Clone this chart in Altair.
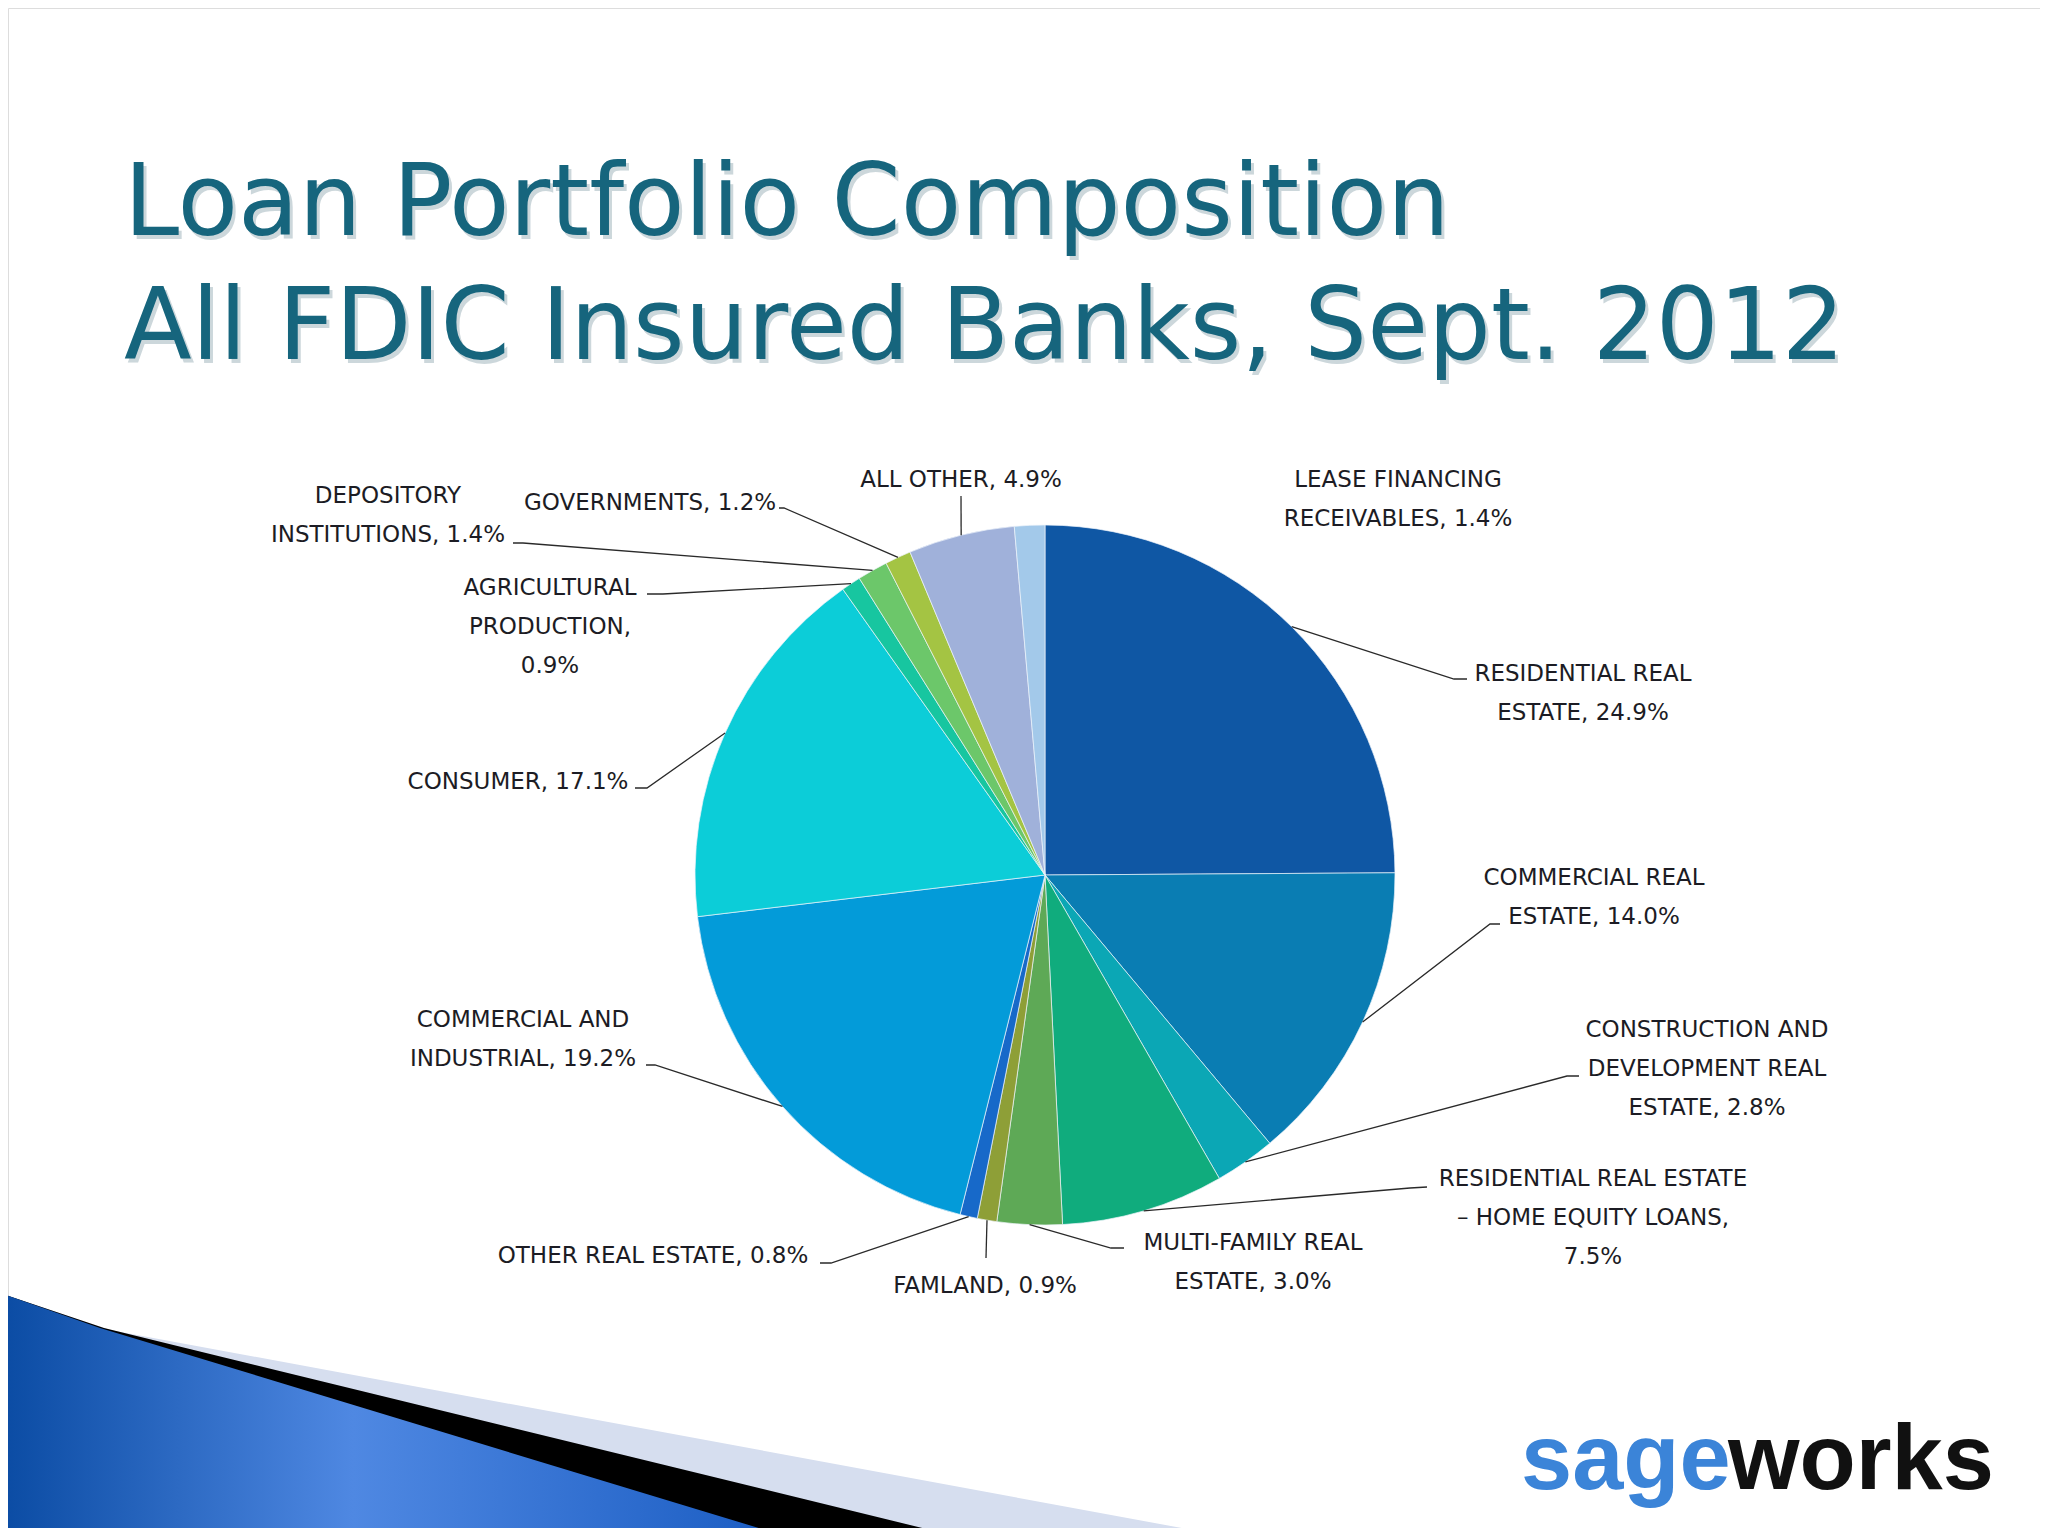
import math
import altair as alt
import pandas as pd

# ---------------- data ----------------
categories = [
    "RESIDENTIAL REAL ESTATE", "COMMERCIAL REAL ESTATE",
    "CONSTRUCTION AND DEVELOPMENT REAL ESTATE",
    "RESIDENTIAL REAL ESTATE - HOME EQUITY LOANS", "MULTI-FAMILY REAL ESTATE",
    "FAMLAND", "OTHER REAL ESTATE", "COMMERCIAL AND INDUSTRIAL", "CONSUMER",
    "AGRICULTURAL PRODUCTION", "DEPOSITORY INSTITUTIONS", "GOVERNMENTS",
    "ALL OTHER", "LEASE FINANCING RECEIVABLES",
]
shares = [24.9, 14.0, 2.8, 7.5, 3.0, 0.9, 0.8, 19.2, 17.1, 0.9, 1.4, 1.2, 4.9, 1.4]
colors = [
    "#0F57A4", "#0A7DB3", "#0BA7B5", "#10AC7D", "#5EA956", "#8E9F37", "#1769C9",
    "#039BD9", "#0CCDD8", "#17C6A0", "#6CC76A", "#A4C443", "#A0B1DA", "#A3C9EA",
]
label_texts = [
    "RESIDENTIAL REAL\nESTATE, 24.9%",
    "COMMERCIAL REAL\nESTATE, 14.0%",
    "CONSTRUCTION AND\nDEVELOPMENT REAL\nESTATE, 2.8%",
    "RESIDENTIAL REAL ESTATE\n– HOME EQUITY LOANS,\n7.5%",
    "MULTI-FAMILY REAL\nESTATE, 3.0%",
    "FAMLAND, 0.9%",
    "OTHER REAL ESTATE, 0.8%",
    "COMMERCIAL AND\nINDUSTRIAL, 19.2%",
    "CONSUMER, 17.1%",
    "AGRICULTURAL\nPRODUCTION,\n0.9%",
    "DEPOSITORY\nINSTITUTIONS, 1.4%",
    "GOVERNMENTS, 1.2%",
    "ALL OTHER, 4.9%",
    "LEASE FINANCING\nRECEIVABLES, 1.4%",
]
title_lines = ["Loan Portfolio Composition", "All FDIC Insured Banks, Sept. 2012"]
logo_parts = ["sage", "works"]

# ---------------- layout (page pixels) ----------------
PIE_CX, PIE_CY, PIE_R = 1045, 875, 350
label_pos = [  # centre x, first baseline
    (1583, 681), (1594, 885), (1707, 1037), (1593, 1186), (1253, 1250),
    (985, 1293), (653, 1263), (523, 1027), (518, 789), (550, 595),
    (388, 503), (650, 510), (961, 487), (1398, 487),
]
leader_elbow = [
    (1454, 679), (1490, 924), (1567, 1076), (1410, 1188), (1111, 1248),
    (986, 1258), (831, 1263), (655, 1065), (647, 788), (663, 594),
    (523, 543), (784, 508), (961, 496), None,
]
leader_tick = [
    (1467, 679), (1500, 924), (1579, 1076), (1427, 1187), (1124, 1248),
    (986, 1258), (820, 1263), (646, 1065), (635, 788), (647, 594),
    (513, 543), (779, 508), (961, 496), None,
]

W, H = 2032, 1520
xs = alt.Scale(domain=[8, 8 + W], nice=False, zero=False)
ys = alt.Scale(domain=[8, 8 + H], nice=False, zero=False, reverse=True)

# ---------------- pie ----------------
pie_df = pd.DataFrame({"cat": categories, "share": shares, "idx": list(range(len(shares)))})
pie = alt.Chart(pie_df).mark_arc(radius=PIE_R, stroke="#eef4fa", strokeWidth=0.7).encode(
    theta=alt.Theta("share:Q", stack=True),
    order=alt.Order("idx:Q", sort="ascending"),
    color=alt.Color("cat:N", scale=alt.Scale(domain=categories, range=colors), legend=None),
    x=alt.value(PIE_CX - 8),
    y=alt.value(PIE_CY - 8),
)

# ---------------- leader lines ----------------
total = sum(shares)
rows = []
cum = 0.0
for i, s in enumerate(shares):
    mid = (cum + s / 2) / total
    cum += s
    if leader_elbow[i] is None:
        continue
    a = 2 * math.pi * mid
    sx = PIE_CX + PIE_R * math.sin(a)
    sy = PIE_CY - PIE_R * math.cos(a)
    rows.append({"id": i, "ord": 0, "x": sx, "y": sy})
    rows.append({"id": i, "ord": 1, "x": leader_elbow[i][0], "y": leader_elbow[i][1]})
    rows.append({"id": i, "ord": 2, "x": leader_tick[i][0], "y": leader_tick[i][1]})
lead_df = pd.DataFrame(rows)
leaders = alt.Chart(lead_df).mark_line(color="#2a2a2a", strokeWidth=1.3).encode(
    x=alt.X("x:Q", scale=xs, axis=None),
    y=alt.Y("y:Q", scale=ys, axis=None),
    detail="id:N",
    order="ord:Q",
)

# ---------------- labels ----------------
lab_df = pd.DataFrame({
    "text": label_texts,
    "x": [p[0] for p in label_pos],
    "y": [p[1] for p in label_pos],
})
labels = alt.Chart(lab_df).mark_text(
    font="DejaVu Sans", fontSize=23, lineBreak="\n", lineHeight=39,
    align="center", baseline="alphabetic", color="#1c1c24",
).encode(
    x=alt.X("x:Q", scale=xs, axis=None),
    y=alt.Y("y:Q", scale=ys, axis=None),
    text="text:N",
)

# ---------------- title ----------------
title_df = pd.DataFrame({"text": title_lines, "x": [124, 124], "y": [235, 359]})
title_shadow = alt.Chart(title_df).mark_text(
    font="DejaVu Sans", fontSize=99, align="left", baseline="alphabetic",
    color="#8fa7b0", opacity=0.45, dx=3, dy=4,
).encode(x=alt.X("x:Q", scale=xs, axis=None), y=alt.Y("y:Q", scale=ys, axis=None), text="text:N")
title = alt.Chart(title_df).mark_text(
    font="DejaVu Sans", fontSize=99, align="left", baseline="alphabetic",
    color="#16657d",
).encode(x=alt.X("x:Q", scale=xs, axis=None), y=alt.Y("y:Q", scale=ys, axis=None), text="text:N")

# ---------------- decorative swoosh (bottom left) ----------------
def band(points, fill):
    df = pd.DataFrame({"x": [p[0] for p in points], "y": [p[1] for p in points], "y2": [1536] * len(points)})
    return alt.Chart(df).mark_area(color=fill, interpolate="linear").encode(
        x=alt.X("x:Q", scale=xs, axis=None),
        y=alt.Y("y:Q", scale=ys, axis=None),
        y2="y2:Q",
    )

lavender = band([(0, 1293), (110, 1330), (1225, 1536)], "#d6deef")
black = band([(0, 1293), (104, 1328), (955, 1536)], "#000000")
blue_grad = alt.Gradient(
    gradient="linear",
    stops=[
        alt.GradientStop(color="#0a4ba3", offset=0),
        alt.GradientStop(color="#4f88e2", offset=0.45),
        alt.GradientStop(color="#1a5cc2", offset=1),
    ],
    x1=0, x2=1, y1=0, y2=0,
)
blue = band([(0, 1293), (100, 1328), (785, 1536)], blue_grad)

# ---------------- logo ----------------
logo_df = pd.DataFrame({"text": logo_parts, "x": [1521, 1728], "y": [1489, 1489],
                        "c": ["#3b84d8", "#111111"]})
logo = alt.Chart(logo_df).mark_text(
    font="Liberation Sans", fontSize=92,
    fontWeight="bold", align="left", baseline="alphabetic",
).encode(
    x=alt.X("x:Q", scale=xs, axis=None),
    y=alt.Y("y:Q", scale=ys, axis=None),
    text="text:N",
    color=alt.Color("c:N", scale=None),
)

chart = alt.layer(
    lavender, black, blue, pie, leaders, labels, title_shadow, title, logo
).properties(
    width=W, height=H, padding=0, autosize=alt.AutoSizeParams(type="none"),
).configure_view(strokeWidth=0, stroke="transparent").configure(background="white")

chart.save("out.html", embed_options={"renderer": "svg", "actions": False})
